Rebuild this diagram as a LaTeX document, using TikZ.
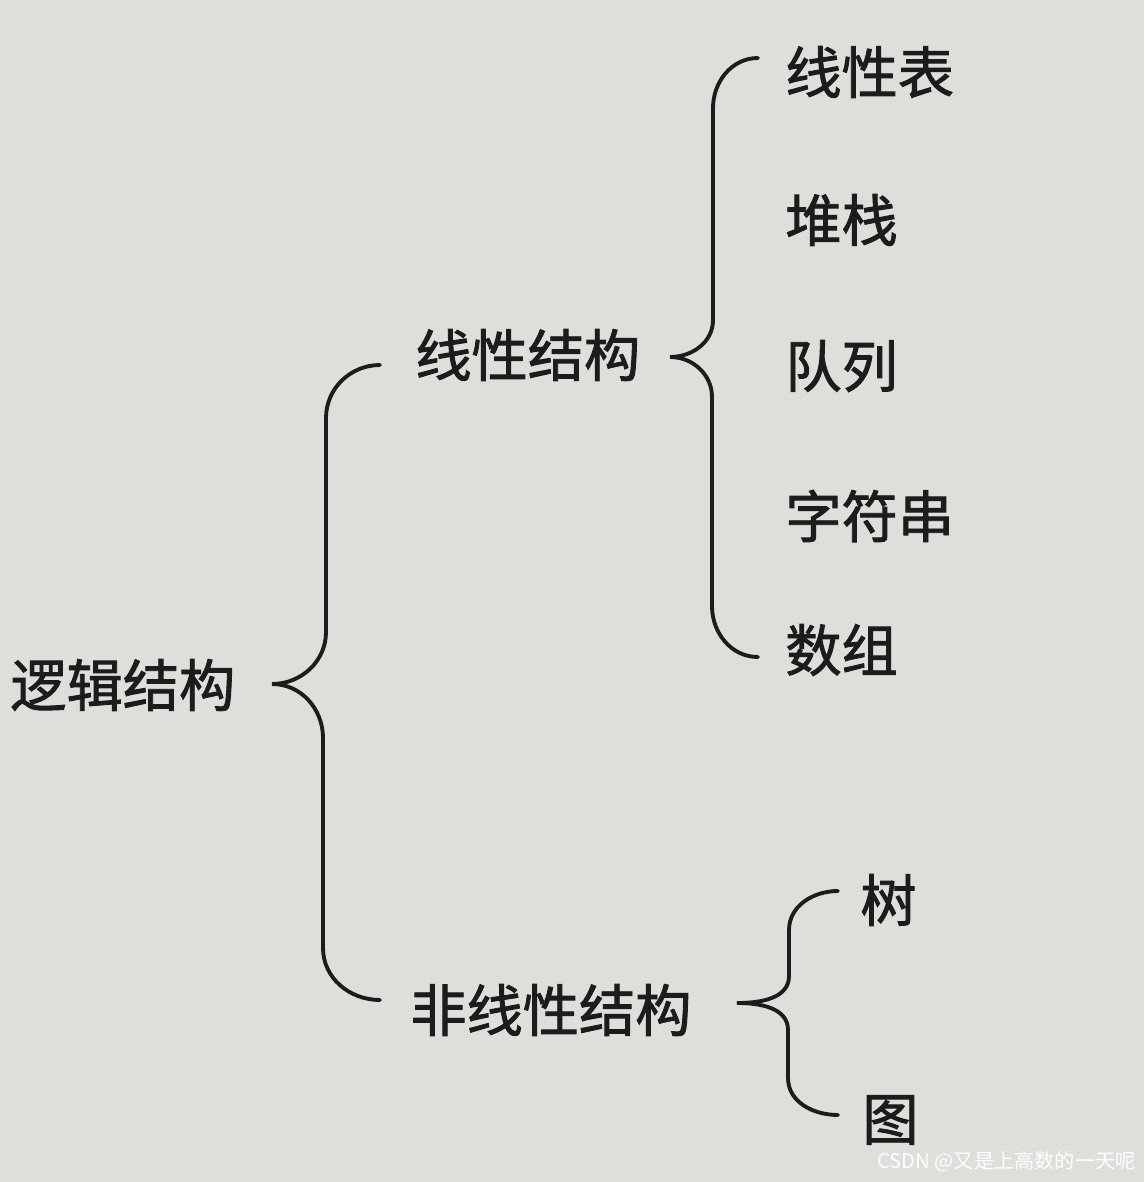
\documentclass[tikz,border=0pt]{standalone}
\usepackage{fontspec}
\newfontfamily\cjk{Noto Sans CJK SC}
\newfontfamily\cjkheavy{Noto Sans CJK SC}[FakeBold=1.6]
\definecolor{paper}{RGB}{222,222,219}
\definecolor{ink}{RGB}{28,28,28}

\begin{document}
\begin{tikzpicture}[x=0.02cm,y=0.02cm]

	% Define styles
	\tikzstyle{term} = [anchor=west, inner sep=0pt, text=ink,
	font=\cjkheavy\fontsize{32}{38}\selectfont]
	\tikzstyle{curly} = [draw=ink, line width=2.2pt, line cap=round]
	\tikzstyle{watermark} = [anchor=west, inner sep=0pt, text=white,
	font=\cjk\fontsize{11.5}{13}\selectfont]

	% Page
	\fill[paper] (0,0) rectangle (1144,-1182);
	\useasboundingbox (0,0) rectangle (1144,-1182);

	% Nodes
	\node (logic) [term] at (10,-685) {逻辑结构};

	\node (linear) [term] at (415,-355) {线性结构};
	\node (nonlinear) [term] at (410,-1010) {非线性结构};

	\node (list) [term] at (785,-72) {线性表};
	\node (stack) [term] at (785,-220) {堆栈};
	\node (queue) [term] at (785,-366) {队列};
	\node (string) [term] at (785,-516) {字符串};
	\node (array) [term] at (785,-650) {数组};

	\node (tree) [term] at (860,-900) {树};
	\node (graph) [term] at (862,-1120) {图};

	\node (csdn) [watermark] at (877,-1162) {CSDN @又是上高数的一天呢};

	% Brace ends
	\coordinate (b1top) at (380,-365);
	\coordinate (b1tip) at (272,-684);
	\coordinate (b1bot) at (380,-1000);

	\coordinate (b2top) at (758,-58);
	\coordinate (b2tip) at (670,-357);
	\coordinate (b2bot) at (758,-657);

	\coordinate (b3top) at (838,-891);
	\coordinate (b3tip) at (737,-1003);
	\coordinate (b3bot) at (838,-1115);

	% Braces
	\draw [curly] (b1top) to[out=180,in=90] (326,-418) -- (326,-632)
	to[out=-90,in=0] (b1tip) to[out=0,in=90] (323,-738) -- (323,-948)
	to[out=-90,in=180] (b1bot);

	\draw [curly] (b2top) to[out=180,in=90] (713,-108) -- (713,-320)
	to[out=-90,in=0] (b2tip) to[out=0,in=90] (712,-397) -- (712,-606)
	to[out=-90,in=180] (b2bot);

	\draw [curly] (b3top) to[out=180,in=90] (789,-930) -- (789,-976)
	to[out=-90,in=0] (b3tip) to[out=0,in=90] (788,-1030) -- (788,-1078)
	to[out=-90,in=180] (b3bot);
\end{tikzpicture}
\end{document}
